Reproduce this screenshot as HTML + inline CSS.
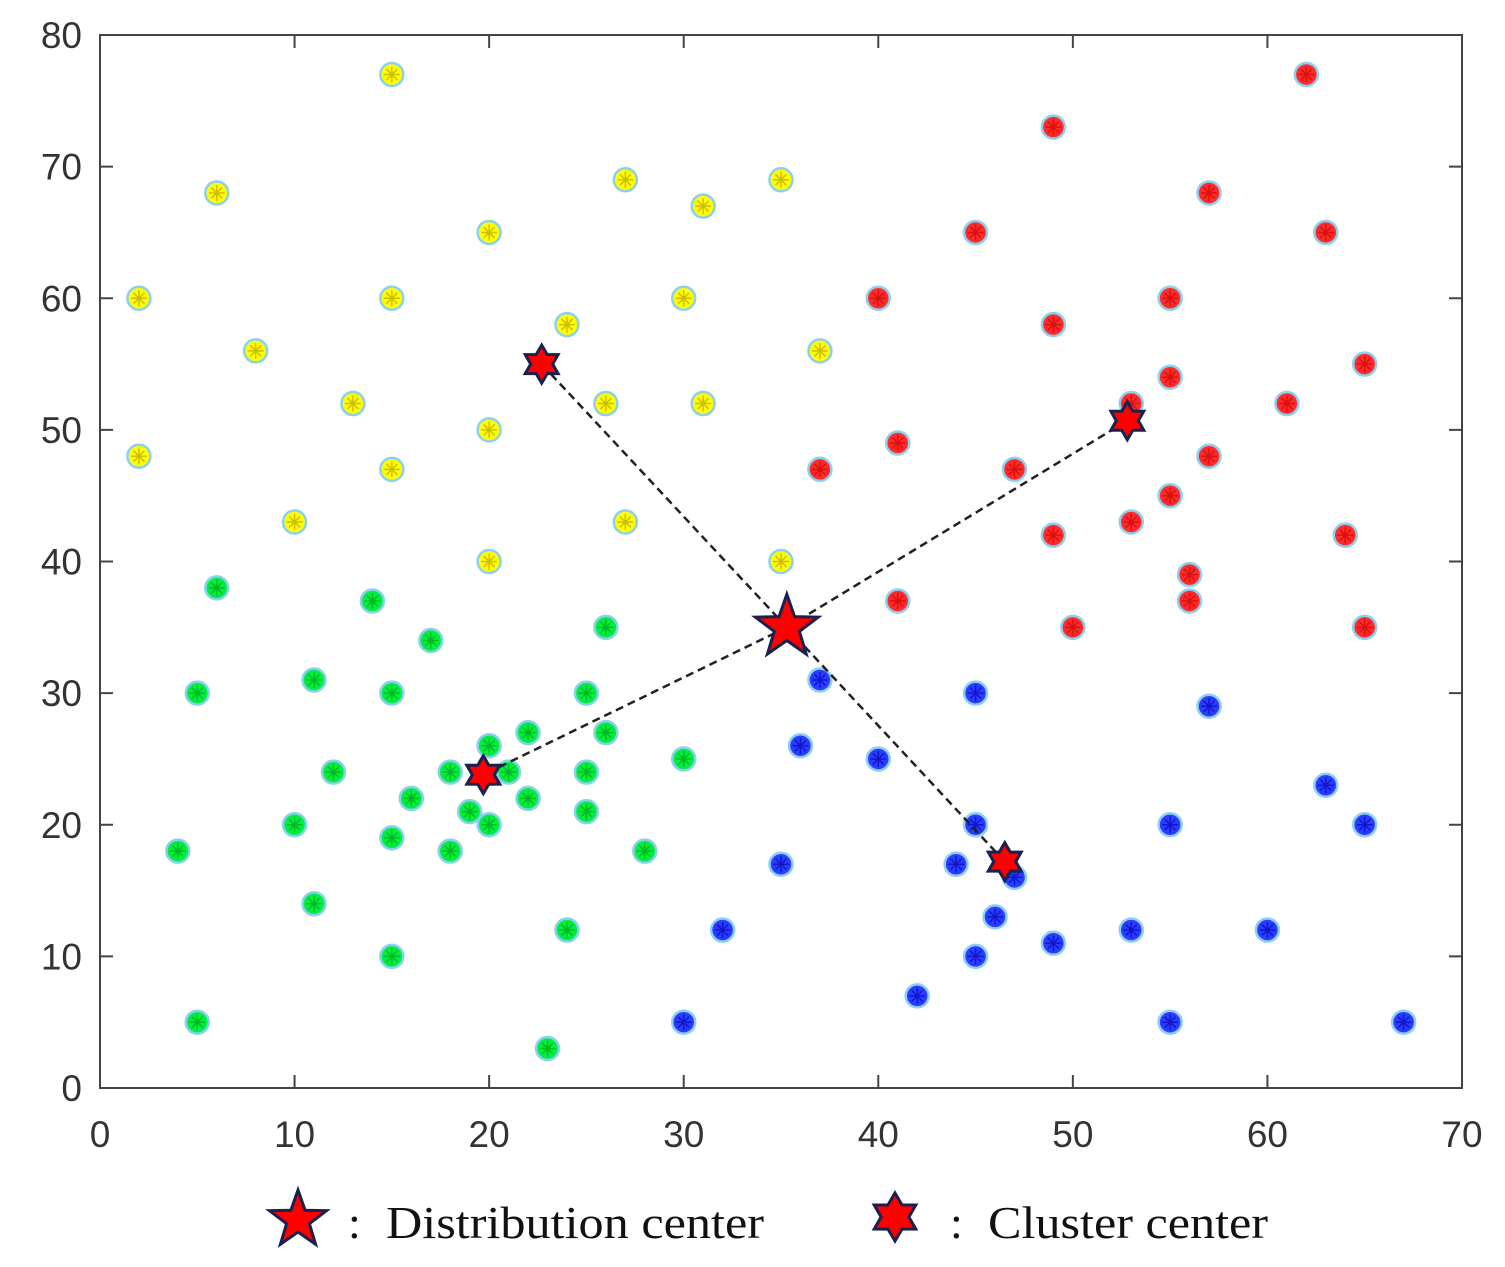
<!DOCTYPE html><html><head><style>body{margin:0;background:#fff}svg{display:block}</style></head><body>
<svg id="s" width="1505" height="1267" xmlns="http://www.w3.org/2000/svg" font-family="Liberation Sans, sans-serif">
<rect x="100" y="35" width="1362" height="1053" fill="#fff" stroke="#444" stroke-width="2"/>
<g id="t"></g><g id="p"></g><g id="c"></g>
<g font-family="Liberation Serif, serif" font-size="46" fill="#111">
<text x="348" y="1238">:</text>
<text x="386" y="1238" textLength="378" lengthAdjust="spacingAndGlyphs">Distribution center</text>
<text x="950" y="1238">:</text>
<text x="988" y="1238" textLength="280" lengthAdjust="spacingAndGlyphs">Cluster center</text>
</g>
</svg>
<script>
const X=x=>100+19.457*x,Y=y=>1088-13.1625*y,NS="http://www.w3.org/2000/svg";
function el(g,n,a,txt){const e=document.createElementNS(NS,n);for(const k in a)e.setAttribute(k,a[k]);if(txt!==undefined)e.textContent=txt;document.getElementById(g).appendChild(e);return e;}
for(let i=0;i<=7;i++){const x=X(i*10);el('t','line',{x1:x,y1:1088,x2:x,y2:1075,stroke:'#444','stroke-width':2});el('t','line',{x1:x,y1:35,x2:x,y2:48,stroke:'#444','stroke-width':2});el('t','text',{x:x,y:1147,'text-anchor':'middle','font-size':37,fill:'#333'},i*10);}
for(let i=0;i<=8;i++){const y=Y(i*10);el('t','line',{x1:100,y1:y,x2:113,y2:y,stroke:'#444','stroke-width':2});el('t','line',{x1:1462,y1:y,x2:1449,y2:y,stroke:'#444','stroke-width':2});el('t','text',{x:82,y:y+13,'text-anchor':'end','font-size':37,fill:'#333'},i*10);}
const sets=[['#ffff00','#b09000',[[15,77],[6,68],[27,69],[35,69],[31,67],[20,65],[2,60],[15,60],[30,60],[8,56],[24,58],[37,56],[13,52],[26,52],[31,52],[2,48],[20,50],[15,47],[10,43],[27,43],[20,40],[35,40]]],
['#ff2a2a','#c00000',[[62,77],[49,73],[57,68],[45,65],[63,65],[40,60],[55,60],[49,58],[65,55],[55,54],[53,52],[61,52],[41,49],[37,47],[47,47],[57,48],[55,45],[49,42],[53,43],[64,42],[56,39],[56,37],[41,37],[50,35],[65,35]]],
['#00ee44','#009900',[[6,38],[14,37],[17,34],[26,35],[5,30],[11,31],[15,30],[25,30],[26,27],[22,27],[20,26],[30,25],[12,24],[18,24],[21,24],[25,24],[16,22],[22,22],[19,21],[25,21],[10,20],[20,20],[15,19],[4,18],[18,18],[28,18],[11,14],[24,12],[15,10],[5,5],[23,3]]],
['#2a3cff','#0000aa',[[37,31],[45,30],[57,29],[36,26],[40,25],[63,23],[45,20],[55,20],[65,20],[35,17],[44,17],[47,16],[46,13],[32,12],[53,12],[60,12],[49,11],[45,10],[42,7],[30,5],[55,5],[67,5]]]];
for(const [f,s,pts] of sets)for(const [a,b] of pts){const x=X(a),y=Y(b);el('p','circle',{cx:x,cy:y,r:11.5,fill:f,stroke:'#8cd0f0','stroke-width':2.5});el('p','path',{d:`M${x-8} ${y}h16M${x} ${y-8}v16M${x-5.5} ${y-5.5}l11 11M${x+5.5} ${y-5.5}l-11 11`,stroke:s,'stroke-width':1.5,opacity:.6});}
const D=[35.3,35],C=[[22.7,55],[52.8,50.7],[19.7,23.8],[46.5,17.2]];
for(const c of C)el('c','line',{x1:X(D[0]),y1:Y(D[1]),x2:X(c[0]),y2:Y(c[1]),stroke:'#222','stroke-width':2.5,'stroke-dasharray':'8,5'});
function hex(x,y,r){let p=[];for(let i=0;i<12;i++){const a=Math.PI/6*i-Math.PI/2,rr=i%2?r*0.58:r;p.push((x+rr*Math.cos(a)).toFixed(1)+','+(y+rr*Math.sin(a)).toFixed(1));}return p.join(' ');}
function star(x,y,r){let p=[];for(let i=0;i<10;i++){const a=Math.PI/5*i-Math.PI/2,rr=i%2?r*0.4:r;p.push((x+rr*Math.cos(a)).toFixed(1)+','+(y+rr*Math.sin(a)).toFixed(1));}return p.join(' ');}
for(const c of C)el('c','polygon',{points:hex(X(c[0]),Y(c[1]),19),fill:'#f00',stroke:'#1a2050','stroke-width':3});
el('c','polygon',{points:star(X(D[0]),Y(D[1]),33),fill:'#f00',stroke:'#1a2050','stroke-width':3});
el('c','polygon',{points:star(298,1220,30),fill:'#f00',stroke:'#1a2050','stroke-width':3});
el('c','polygon',{points:hex(895,1217,24),fill:'#f00',stroke:'#1a2050','stroke-width':3});
</script></body></html>
